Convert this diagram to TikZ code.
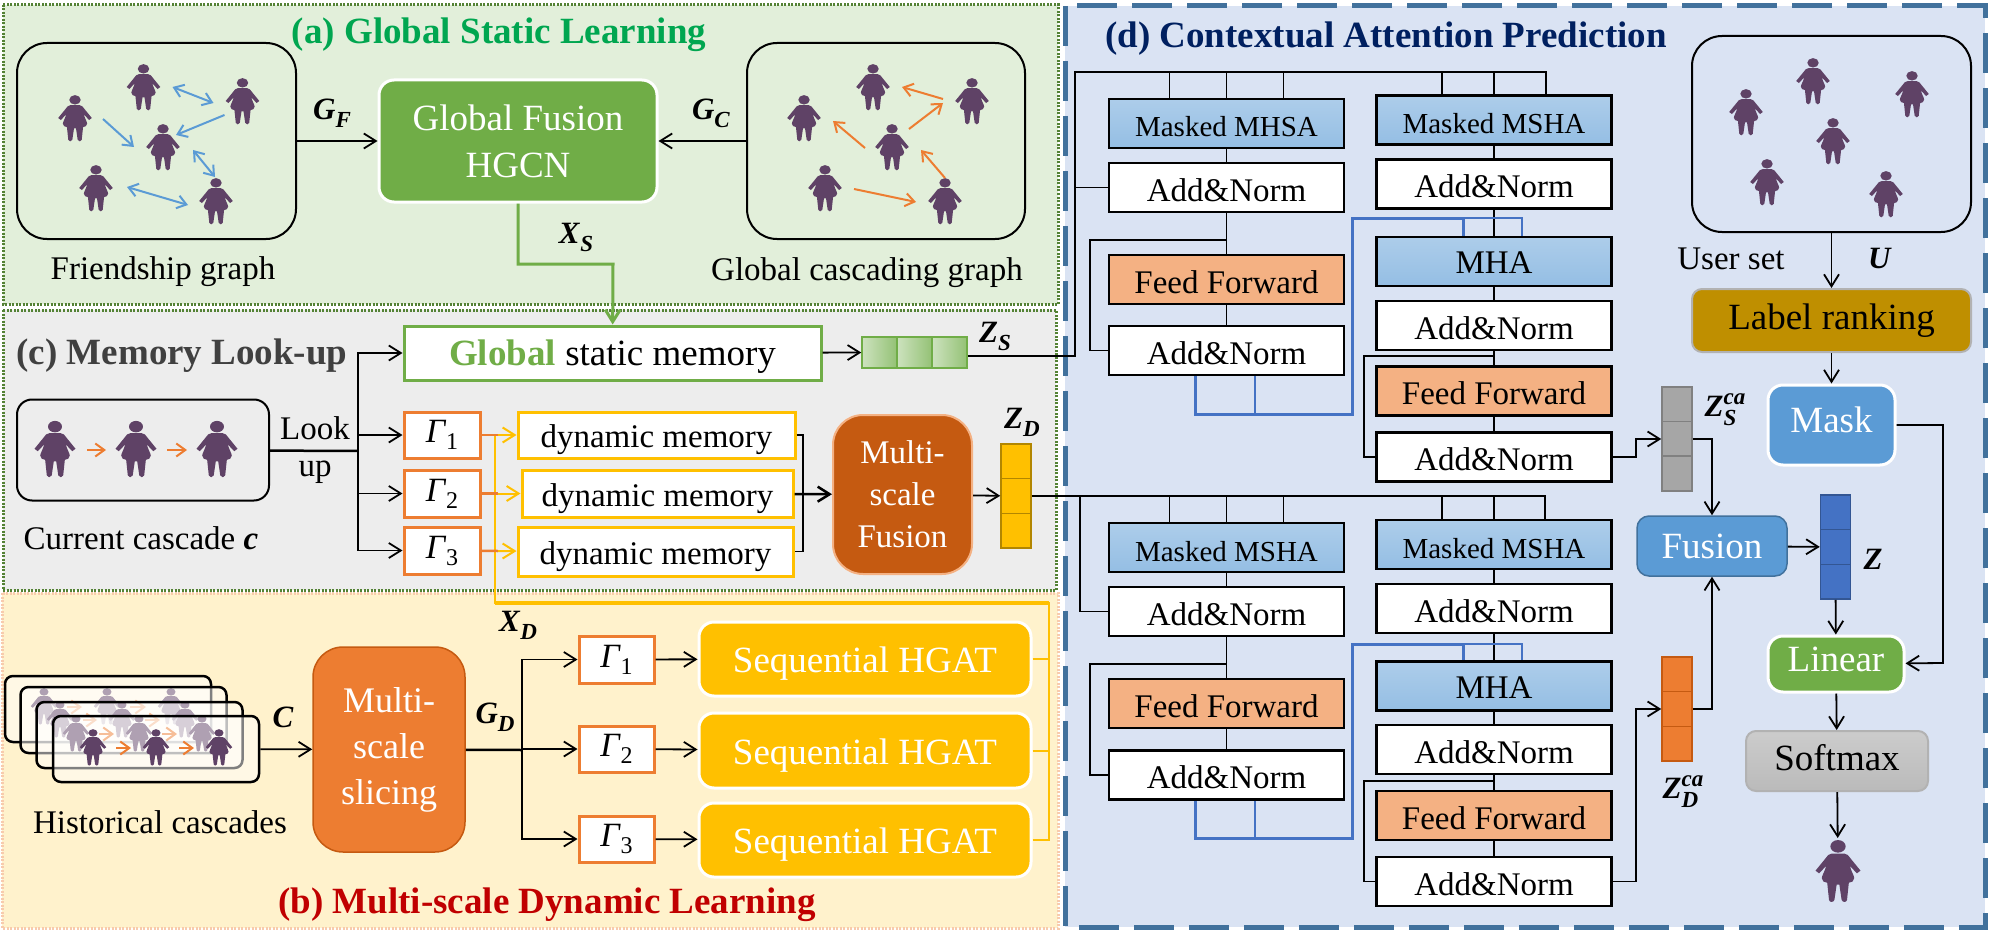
\documentclass[tikz,border=0pt]{standalone}
\usepackage{fontspec}
\setmainfont{Liberation Serif}
\usetikzlibrary{arrows.meta,calc}

\definecolor{usercol}{HTML}{5F4266}
\definecolor{gfgreen}{HTML}{70AD47}
\definecolor{ttgreen}{HTML}{00A650}
\definecolor{dotgreen}{HTML}{548235}
\definecolor{bga}{HTML}{E2EFDA}
\definecolor{bgc}{HTML}{EDEDED}
\definecolor{bgb}{HTML}{FFF2CC}
\definecolor{bgd}{HTML}{DAE3F3}
\definecolor{dashb}{HTML}{F8CBAD}
\definecolor{dashd}{HTML}{41719C}
\definecolor{sblue}{HTML}{5B9BD5}
\definecolor{dblue}{HTML}{4472C4}
\definecolor{sorange}{HTML}{ED7D31}
\definecolor{dorange}{HTML}{C55A11}
\definecolor{syellow}{HTML}{FFC000}
\definecolor{ttred}{HTML}{C00000}
\definecolor{ttnavy}{HTML}{002060}
\definecolor{ffpeach}{HTML}{F4B183}
\definecolor{rankcol}{HTML}{BF8F00}

\newcommand{\fta}{\fontsize{37}{47}\selectfont}
\newcommand{\ftb}{\fontsize{33}{42}\selectfont}
\newcommand{\ftc}{\fontsize{29}{34}\selectfont}
\newcommand{\ftm}{\fontsize{31}{34}\selectfont}
\newcommand{\fts}{\fontsize{23}{23}\selectfont}
% bold italic symbol with subscript, and with both scripts
\newcommand{\bsym}[1]{\textbf{\textit{#1}}}
\newcommand{\bsub}[2]{\bsym{#1}\raisebox{-8pt}{\fts\bsym{#2}}}
\newcommand{\bsubsup}[3]{\bsym{#1}\rlap{\raisebox{-9pt}{\fts\bsym{#2}}}\raisebox{12pt}{\fts\bsym{#3}}}
\newcommand{\gam}[1]{\textit{Γ}\raisebox{-7pt}{\fontsize{24}{24}\selectfont #1}}

\tikzset{
  >={Straight Barb[length=12pt,width=15pt]},
  paneltitle/.style={font=\fta\bfseries, inner sep=0},
  lab/.style={font=\ftb, inner sep=0},
  mlab/.style={font=\ftm, inner sep=0},
  conn/.style={line width=1.8, black},
  arr/.style={conn, ->},
  gbox/.style={rounded corners=30, draw, line width=2, inner sep=0},
  solid box/.style={rounded corners=15, draw=white, line width=3, text=white, font=\fta, align=center, inner sep=0},
  gambox/.style={draw=sorange, fill=white, line width=3, font=\fontsize{34}{36}\selectfont, inner sep=0},
  dyn/.style={draw=syellow, fill=white, line width=3, font=\ftb, text height=32, text depth=7, inner sep=0},
  blk/.style={draw, line width=2.5, minimum width=235, minimum height=49, inner sep=0},
  whiteblk/.style={blk, fill=white, font=\ftb, text height=27, text depth=0},
  attn/.style={blk, top color=sblue!50!white, bottom color=sblue!65!white, font=\ftc, text height=27, text depth=0},
  mha/.style={attn, font=\ftb, text height=24, text depth=0},
  ffwd/.style={blk, fill=ffpeach, font=\ftb, text height=27, text depth=0},
  seq/.style={solid box, fill=syellow, minimum width=332, text height=35, text depth=8},
  vcell/.style={draw, line width=1.5, minimum width=30, minimum height=34.7, inner sep=0},
  hcell/.style={draw=gfgreen, line width=1.5, left color=gfgreen!35!white, right color=gfgreen!75!white, minimum width=35, minimum height=31, inner sep=0},
  bthick/.style={line width=3, dblue},
  bthin/.style={line width=2, dblue},
  yline/.style={line width=2, syellow},
  fedge/.style={line width=2, sblue, >={Straight Barb[length=9pt,width=13pt]}},
  oedge/.style={line width=2, sorange, >={Straight Barb[length=9pt,width=13pt]}},
  small/.style={scale=0.265},
  user/.style={scale=0.336},
  hbox/.style={draw, line width=2.5, rounded corners=8, fill=white, fill opacity=0.5, draw opacity=1, minimum width=206, minimum height=66, inner sep=0},
  person/.pic={
    \coordinate (-c) at (0, 0);
    \fill [usercol] (0, -57) ellipse (17 and 14);
    \fill [usercol] (-14, -41) -- (14, -41) .. controls (20, -41) and (24, -36) .. (28, -30) -- (50, -3) -- (42, 3) -- (26, -14)
      .. controls (30, 0) and (36, 8) .. (36, 14) .. controls (36, 20) and (30, 24) .. (24, 24) -- (20, 62)
      .. controls (19, 68) and (10, 68) .. (8, 62) -- (3, 28) -- (-3, 28) -- (-8, 62)
      .. controls (-10, 68) and (-19, 68) .. (-20, 62) -- (-24, 24)
      .. controls (-30, 24) and (-36, 20) .. (-36, 14) .. controls (-36, 8) and (-30, 0) .. (-26, -14)
      -- (-42, 3) -- (-50, -3) -- (-28, -30) .. controls (-24, -36) and (-20, -41) .. (-14, -41) -- cycle;
  }
}

\begin{document}
\begin{tikzpicture}[x=1pt, y=-1pt]
    \useasboundingbox (0, 0) rectangle (1989, 931);

    % panels
    \draw [fill=bga, draw=dotgreen, line width=3, dash pattern=on 2pt off 1.5pt] (3, 5) rectangle (1058, 304);
    \draw [fill=bgc, draw=dotgreen, line width=3, dash pattern=on 2pt off 1.5pt] (3, 310) rectangle (1056, 590);
    \draw [fill=bgb, draw=dashb, line width=3, dash pattern=on 2pt off 1.5pt] (2, 593) rectangle (1058, 928);
    \draw [fill=bgd, draw=dashd, line width=5, dash pattern=on 40pt off 15pt] (1065, 6) rectangle (1985, 927);

    % (a) global static learning
    \node [paneltitle, text=ttgreen] (ta) at (499, 35) {(a) Global Static Learning};
    \node [gbox, minimum width=279, minimum height=196] (fbox) at (156.5, 141) {};
    \node [gbox, minimum width=278, minimum height=196] (cbox) at (886, 141) {};
    \node [lab] (tf) at (163, 272) {Friendship graph};
    \node [lab] (tg) at (867, 273) {Global cascading graph};
    \node [solid box, fill=gfgreen, minimum width=278, minimum height=122] (hgcn) at (518, 141) {Global Fusion\\HGCN};

    \pic [user] (f1) at (143.5, 88) {person};
    \pic [user] (f2) at (242.5, 102) {person};
    \pic [user] (f3) at (75, 119) {person};
    \pic [user] (f4) at (163, 148) {person};
    \pic [user] (f5) at (96, 189) {person};
    \pic [user] (f6) at (216, 202) {person};
    \draw [fedge, <->] ([shift={(29, -1)}]f1-c) -- ([shift={(-29, 1)}]f2-c);
    \draw [fedge, ->] ([shift={(-18, 13)}]f2-c) -- ([shift={(13, -13)}]f4-c);
    \draw [fedge, ->] ([shift={(28, 0)}]f3-c) -- ([shift={(-29, -1)}]f4-c);
    \draw [fedge, <->] ([shift={(30, 2)}]f4-c) -- ([shift={(-1, -25)}]f6-c);
    \draw [fedge, <->] ([shift={(31, -2)}]f5-c) -- ([shift={(-28, 3)}]f6-c);

    \pic [user] (k1) at (873, 88) {person};
    \pic [user] (k2) at (972, 102) {person};
    \pic [user] (k3) at (804, 119) {person};
    \pic [user] (k4) at (892, 148) {person};
    \pic [user] (k5) at (825, 189) {person};
    \pic [user] (k6) at (945, 202) {person};
    \draw [oedge, ->] ([shift={(-29, -3)}]k2-c) -- ([shift={(29, -1)}]k1-c);
    \draw [oedge, ->] ([shift={(17, -19)}]k4-c) -- ([shift={(-29, 1)}]k2-c);
    \draw [oedge, ->] ([shift={(-27, 0)}]k4-c) -- ([shift={(29, 2)}]k3-c);
    \draw [oedge, ->] ([shift={(0, -24)}]k6-c) -- ([shift={(29, 2)}]k4-c);
    \draw [oedge, ->] ([shift={(29, 0)}]k5-c) -- ([shift={(-29, 0)}]k6-c);

    \draw [arr] (fbox) -- (hgcn);
    \draw [arr] (cbox) -- (hgcn);
    \node [mlab] (gf) at (332, 113) {\bsub{G}{F}};
    \node [mlab] (gc) at (711, 113) {\bsub{G}{C}};
    \node [mlab] (xs) at (576, 237) {\bsub{X}{S}};

    % (c) memory look-up
    \node [paneltitle, text=black!75] (tc) at (182, 356) {(c) Memory Look-up};
    \node [draw=gfgreen, fill=white, line width=3, minimum width=417, minimum height=54, font=\fta, text height=33, text depth=8, inner sep=0] (gsm) at (612.5, 353) {{\color{gfgreen}\textbf{Global}} static memory};
    \coordinate (xs1) at (613, 264);
    \draw [line width=3, gfgreen, ->] (hgcn) |- (xs1) -- (gsm);
    \node [hcell] (zs1) at (879.5, 352.5) {};
    \node [hcell] (zs2) at (914.5, 352.5) {};
    \node [hcell] (zs3) at (949.5, 352.5) {};
    \draw [arr] (gsm) -- (zs1);
    \node [mlab] (lzs) at (995, 336) {\bsub{Z}{S}};

    \node [draw, line width=2, rounded corners=15, minimum width=252, minimum height=101, inner sep=0] (cur) at (143, 450) {};
    \pic [scale=0.41] (c1) at (55, 450) {person};
    \pic [scale=0.41] (c2) at (136, 450) {person};
    \pic [scale=0.41] (c3) at (217, 450) {person};
    \draw [oedge, ->, shorten <=32, shorten >=30] (c1-c) -- (c2-c);
    \draw [oedge, ->, shorten <=31, shorten >=30] (c2-c) -- (c3-c);
    \node [lab] (tcur) at (141, 538) {Current cascade \bsym{c}};
    \node [lab] (tlook) at (315, 428) {Look};
    \node [lab] (tup) at (315, 472) {up};

    \node [gambox, minimum width=76, minimum height=46] (g1) at (442, 435) {\gam{1}};
    \node [gambox, minimum width=76, minimum height=47] (g2) at (442, 493.5) {\gam{2}};
    \node [gambox, minimum width=76, minimum height=47] (g3) at (442, 550.5) {\gam{3}};
    \node [dyn, minimum width=277, minimum height=46] (dm1) at (656.5, 435) {dynamic memory};
    \node [dyn, minimum width=271, minimum height=47] (dm2) at (657.5, 493.5) {dynamic memory};
    \node [dyn, minimum width=275, minimum height=49] (dm3) at (655.5, 551.5) {dynamic memory};

    \coordinate (lk) at (358, 451);
    \draw [conn, line width=2.5] (cur) -- (lk);
    \draw [arr] (lk) |- (gsm);
    \draw [arr] (lk) |- (g1);
    \draw [arr] (lk) |- (g2);
    \draw [arr] (lk) |- (g3);

    \node [rounded corners=30, draw=ffpeach, fill=dorange, line width=2, text=white, font=\ftb, align=center, minimum width=139, minimum height=159, inner sep=0] (msf) at (902.5, 494.5) {Multi-\\scale\\Fusion};
    \coordinate (db) at (803, 494);
    \draw [conn] (dm1) -| (db) |- (dm3);
    \draw [conn, line width=2.5, ->] (dm2) -- (msf);
    \node [vcell, draw=black!30!syellow, fill=syellow] (zd1) at (1016, 461.3) {};
    \node [vcell, draw=black!30!syellow, fill=syellow] (zd2) at (1016, 496) {};
    \node [vcell, draw=black!30!syellow, fill=syellow] (zd3) at (1016, 530.7) {};
    \draw [arr] (msf) -- (zd2);
    \node [mlab] (lzd) at (1022, 422) {\bsub{Z}{D}};

    % (b) multi-scale dynamic learning
    \node [paneltitle, text=ttred] (tb) at (547, 905) {(b) Multi-scale Dynamic Learning};
    \node [hbox] (h1) at (108, 709) {};
    \pic [small] (h11) at (44, 707) {person};
    \pic [small] (h12) at (107, 707) {person};
    \pic [small] (h13) at (171, 707) {person};
    \draw [oedge, ->, shorten <=23, shorten >=25] (h11-c) -- (h12-c);
    \draw [oedge, ->, shorten <=23, shorten >=25] (h12-c) -- (h13-c);
    \node [hbox] (h2) at (123.5, 720) {};
    \pic [small] (h21) at (60, 720) {person};
    \pic [small] (h22) at (122, 720) {person};
    \pic [small] (h23) at (185, 720) {person};
    \draw [oedge, ->, shorten <=23, shorten >=25] (h21-c) -- (h22-c);
    \draw [oedge, ->, shorten <=23, shorten >=25] (h22-c) -- (h23-c);
    \node [hbox] (h3) at (139.5, 735) {};
    \pic [small] (h31) at (76, 734) {person};
    \pic [small] (h32) at (139, 734) {person};
    \pic [small] (h33) at (202, 734) {person};
    \draw [oedge, ->, shorten <=23, shorten >=25] (h31-c) -- (h32-c);
    \draw [oedge, ->, shorten <=23, shorten >=25] (h32-c) -- (h33-c);
    \node [hbox] (h4) at (156, 749) {};
    \pic [small] (h41) at (93, 748) {person};
    \pic [small] (h42) at (156, 748) {person};
    \pic [small] (h43) at (219, 748) {person};
    \draw [oedge, ->, shorten <=23, shorten >=25] (h41-c) -- (h42-c);
    \draw [oedge, ->, shorten <=23, shorten >=25] (h42-c) -- (h43-c);
    \node [lab] (thist) at (160, 822) {Historical cascades};

    \node [rounded corners=30, draw=dorange, fill=sorange, line width=1.5, text=white, font=\fontsize{36}{46}\selectfont, align=center, minimum width=152, minimum height=205, inner sep=0] (mss) at (389, 749.5) {Multi-\\scale\\slicing};
    \draw [arr] (h4) -- (mss);
    \node [mlab] (lc) at (283, 717) {\bsym{C}};
    \node [mlab] (lgd) at (495, 717) {\bsub{G}{D}};

    \node [gambox, minimum width=75, minimum height=47] (s1) at (616.5, 659.5) {\gam{1}};
    \node [gambox, minimum width=75, minimum height=46] (s2) at (616.5, 749) {\gam{2}};
    \node [gambox, minimum width=75, minimum height=46] (s3) at (616.5, 839) {\gam{3}};
    \node [seq, minimum height=74] (hg1) at (865, 659) {Sequential HGAT};
    \node [seq, minimum height=75] (hg2) at (865, 750.5) {Sequential HGAT};
    \node [seq, minimum height=74] (hg3) at (865, 840) {Sequential HGAT};

    \coordinate (sd) at (522, 750);
    \draw [conn, line width=2.5] (mss) -- (sd);
    \draw [arr] (sd) |- (s1);
    \draw [arr] (sd) |- (s2);
    \draw [arr] (sd) |- (s3);
    \draw [arr] (s1) -- (hg1);
    \draw [arr] (s2) -- (hg2);
    \draw [arr] (s3) -- (hg3);

    % feedback of the dynamic memory
    \coordinate (xd1) at (495, 435);
    \coordinate (xd2) at (1049, 603);
    \coordinate (oy1) at (498, 435);
    \coordinate (oy2) at (498, 493.5);
    \coordinate (oy3) at (498, 551);
    \draw [yline] (hg3) -| (xd2) -| (xd1);
    \draw [yline] (hg1) -| (xd2);
    \draw [yline] (hg2) -| (xd2);
    \draw [line width=4.5, syellow] (xd2) -- (xd2 -| xd1);
    \node [mlab] (lxd) at (518, 625) {\bsub{X}{D}};
    \draw [line width=2.5, sorange] (g1) -- (oy1);
    \draw [line width=2.5, sorange] (g2) -- (oy2);
    \draw [line width=2.5, sorange] (g3) -- (oy3);
    \draw [yline, ->] (oy1) -- (dm1);
    \draw [yline, ->] (oy2) -- (dm2);
    \draw [yline, ->] (oy3) -- (dm3);

    % (d) contextual attention prediction
    \node [paneltitle, text=ttnavy] (td) at (1386, 39) {(d) Contextual Attention Prediction};

    % upper pair of blocks
    \node [attn] (ul1) at (1226.5, 123.5) {Masked MHSA};
    \node [whiteblk] (ul2) at (1226.5, 187.5) {Add\&Norm};
    \node [ffwd] (ul3) at (1226.5, 279.5) {Feed Forward};
    \node [whiteblk] (ul4) at (1226.5, 350.5) {Add\&Norm};
    \node [attn] (ur1) at (1494, 120) {Masked MSHA};
    \node [whiteblk] (ur2) at (1494, 184) {Add\&Norm};
    \node [mha] (ur3) at (1494, 261.5) {MHA};
    \node [whiteblk] (ur4) at (1494, 325.5) {Add\&Norm};
    \node [ffwd] (ur5) at (1494, 391) {Feed Forward};
    \node [whiteblk] (ur6) at (1494, 457) {Add\&Norm};

    \coordinate (ra) at (1075, 72);
    \coordinate (rb) at (1546, 72);
    \draw [conn] ([yshift=-3.5]zs3.east) -| (ra) -- (rb) -- (rb |- ur1.north);
    \draw [conn] (ra) |- (ul2);
    \draw [conn] ([xshift=-57]ul1.north) |- (ra);
    \draw [conn] (ul1.north) |- (ra);
    \draw [conn] ([xshift=57]ul1.north) |- (ra);
    \draw [conn] ([xshift=-52]ur1.north) |- (ra);
    \draw [conn] (ur1.north) |- (ra);
    \draw [conn] (ul1) -- (ul2);
    \draw [conn] (ul2) -- (ul3);
    \draw [conn] (ul3) -- (ul4);
    \draw [conn] (ur1) -- (ur2);
    \draw [conn] (ur2) -- (ur3);
    \draw [conn] (ur3) -- (ur4);
    \draw [conn] (ur4) -- (ur5);
    \draw [conn] (ur5) -- (ur6);
    \coordinate (ua) at (1226.5, 240);
    \coordinate (ub) at (1090, 240);
    \draw [conn] (ua) -- (ub) |- (ul4);
    \coordinate (uc) at (1494, 356);
    \coordinate (ud) at (1364, 356);
    \draw [conn] (uc) -- (ud) |- (ur6);
    \coordinate (ue) at (1352, 414);
    \coordinate (uf) at (1463, 218);
    \draw [bthick] ([xshift=-31.5]ul4.south) |- (ue) |- (uf) -- ([xshift=-31]ur3.north);
    \draw [bthin] ([xshift=28.5]ul4.south) |- (ue);
    \draw [bthin] (uf) -| ([xshift=28]ur3.north);

    % lower pair of blocks
    \node [attn] (dl1) at (1226.5, 547.5) {Masked MSHA};
    \node [whiteblk] (dl2) at (1226.5, 611.5) {Add\&Norm};
    \node [ffwd] (dl3) at (1226.5, 703.5) {Feed Forward};
    \node [whiteblk] (dl4) at (1226.5, 775) {Add\&Norm};
    \node [attn] (dr1) at (1494, 544.5) {Masked MSHA};
    \node [whiteblk] (dr2) at (1494, 608.5) {Add\&Norm};
    \node [mha] (dr3) at (1494, 686) {MHA};
    \node [whiteblk] (dr4) at (1494, 749.5) {Add\&Norm};
    \node [ffwd] (dr5) at (1494, 815.5) {Feed Forward};
    \node [whiteblk] (dr6) at (1494, 881.5) {Add\&Norm};

    \coordinate (rc) at (1080, 496);
    \coordinate (rd) at (1545, 496);
    \draw [conn] (zd2) -- (rd) -- (rd |- dr1.north);
    \draw [conn] (rc) |- (dl2);
    \draw [conn] ([xshift=-57]dl1.north) |- (rc);
    \draw [conn] (dl1.north) |- (rc);
    \draw [conn] ([xshift=57]dl1.north) |- (rc);
    \draw [conn] ([xshift=-52]dr1.north) |- (rc);
    \draw [conn] (dr1.north) |- (rc);
    \draw [conn] (dl1) -- (dl2);
    \draw [conn] (dl2) -- (dl3);
    \draw [conn] (dl3) -- (dl4);
    \draw [conn] (dr1) -- (dr2);
    \draw [conn] (dr2) -- (dr3);
    \draw [conn] (dr3) -- (dr4);
    \draw [conn] (dr4) -- (dr5);
    \draw [conn] (dr5) -- (dr6);
    \coordinate (da) at (1226.5, 664);
    \coordinate (db2) at (1090, 664);
    \draw [conn] (da) -- (db2) |- (dl4);
    \coordinate (dc) at (1494, 781);
    \coordinate (dd) at (1364, 781);
    \draw [conn] (dc) -- (dd) |- (dr6);
    \coordinate (de) at (1352, 838);
    \coordinate (df) at (1463, 644);
    \draw [bthick] ([xshift=-31.5]dl4.south) |- (de) |- (df) -- ([xshift=-31]dr3.north);
    \draw [bthin] ([xshift=28.5]dl4.south) |- (de);
    \draw [bthin] (df) -| ([xshift=28]dr3.north);

    % user set and prediction
    \node [gbox, minimum width=279, minimum height=196] (ubox) at (1831.5, 134) {};
    \pic [user] (u1) at (1813, 82) {person};
    \pic [user] (u2) at (1912, 95) {person};
    \pic [user] (u3) at (1746, 113) {person};
    \pic [user] (u4) at (1833, 142) {person};
    \pic [user] (u5) at (1767, 183) {person};
    \pic [user] (u6) at (1886, 195) {person};
    \node [lab] (tuser) at (1731, 259) {User set};
    \node [mlab] (lu) at (1880, 258) {\bsym{U}};
    \node [rounded corners=10, draw=black!30, fill=rankcol, line width=2, font=\fta, minimum width=279, minimum height=63, inner sep=0] (rank) at (1831.5, 320.5) {Label ranking};
    \node [solid box, fill=sblue, minimum width=127, minimum height=80, text depth=10] (mask) at (1831.5, 425) {Mask};
    \draw [arr] (ubox) -- (rank);
    \draw [arr] (rank) -- (mask);

    \node [vcell, draw=black!50, fill=black!35] (zc1) at (1677, 404.5) {};
    \node [vcell, draw=black!50, fill=black!35] (zc2) at (1677, 439) {};
    \node [vcell, draw=black!50, fill=black!35] (zc3) at (1677, 473.5) {};
    \node [mlab] (lzc) at (1725, 410) {\bsubsup{Z}{S}{ca}};
    \node [vcell, draw=dorange, fill=sorange] (zo1) at (1677, 674.3) {};
    \node [vcell, draw=dorange, fill=sorange] (zo2) at (1677, 709) {};
    \node [vcell, draw=dorange, fill=sorange] (zo3) at (1677, 743.7) {};
    \node [mlab] (lzo) at (1683, 792) {\bsubsup{Z}{D}{ca}};
    \coordinate (ka) at (1636, 439);
    \coordinate (kb) at (1636, 709);
    \draw [conn, ->] (ur6) -| (ka) -- (zc2);
    \draw [conn, ->] (dr6) -| (kb) -- (zo2);

    \node [rounded corners=12, draw=dashd, fill=sblue, line width=1.5, text=white, font=\fta, minimum width=150, minimum height=60, inner sep=0] (fus) at (1712, 546) {Fusion};
    \draw [arr] (zc2) -| (fus);
    \draw [arr] (zo2) -| (fus);
    \node [vcell, draw=dblue!75!black, fill=dblue] (z1) at (1835.5, 512.3) {};
    \node [vcell, draw=dblue!75!black, fill=dblue] (z2) at (1835.5, 547) {};
    \node [vcell, draw=dblue!75!black, fill=dblue] (z3) at (1835.5, 581.7) {};
    \node [mlab] (lz) at (1873, 559) {\bsym{Z}};
    \draw [arr] (fus) -- (z2);

    \node [solid box, fill=gfgreen, minimum width=136, minimum height=56, text depth=10] (lin) at (1836, 664) {Linear};
    \node [rounded corners=10, draw=black!30, line width=2, top color=black!20, bottom color=black!27, font=\fta, text depth=8, minimum width=182, minimum height=60, inner sep=0] (soft) at (1837, 761) {Softmax};
    \pic [scale=0.45] (res) at (1838, 872) {person};
    \coordinate (mc) at (1943, 663);
    \draw [arr] (z3) -- (lin);
    \draw [arr] (mask) -| (mc) -- (lin);
    \draw [arr] (lin) -- (soft);
    \draw [arr, shorten >=34] (soft) -- (res-c);
  \end{tikzpicture}
\end{document}
